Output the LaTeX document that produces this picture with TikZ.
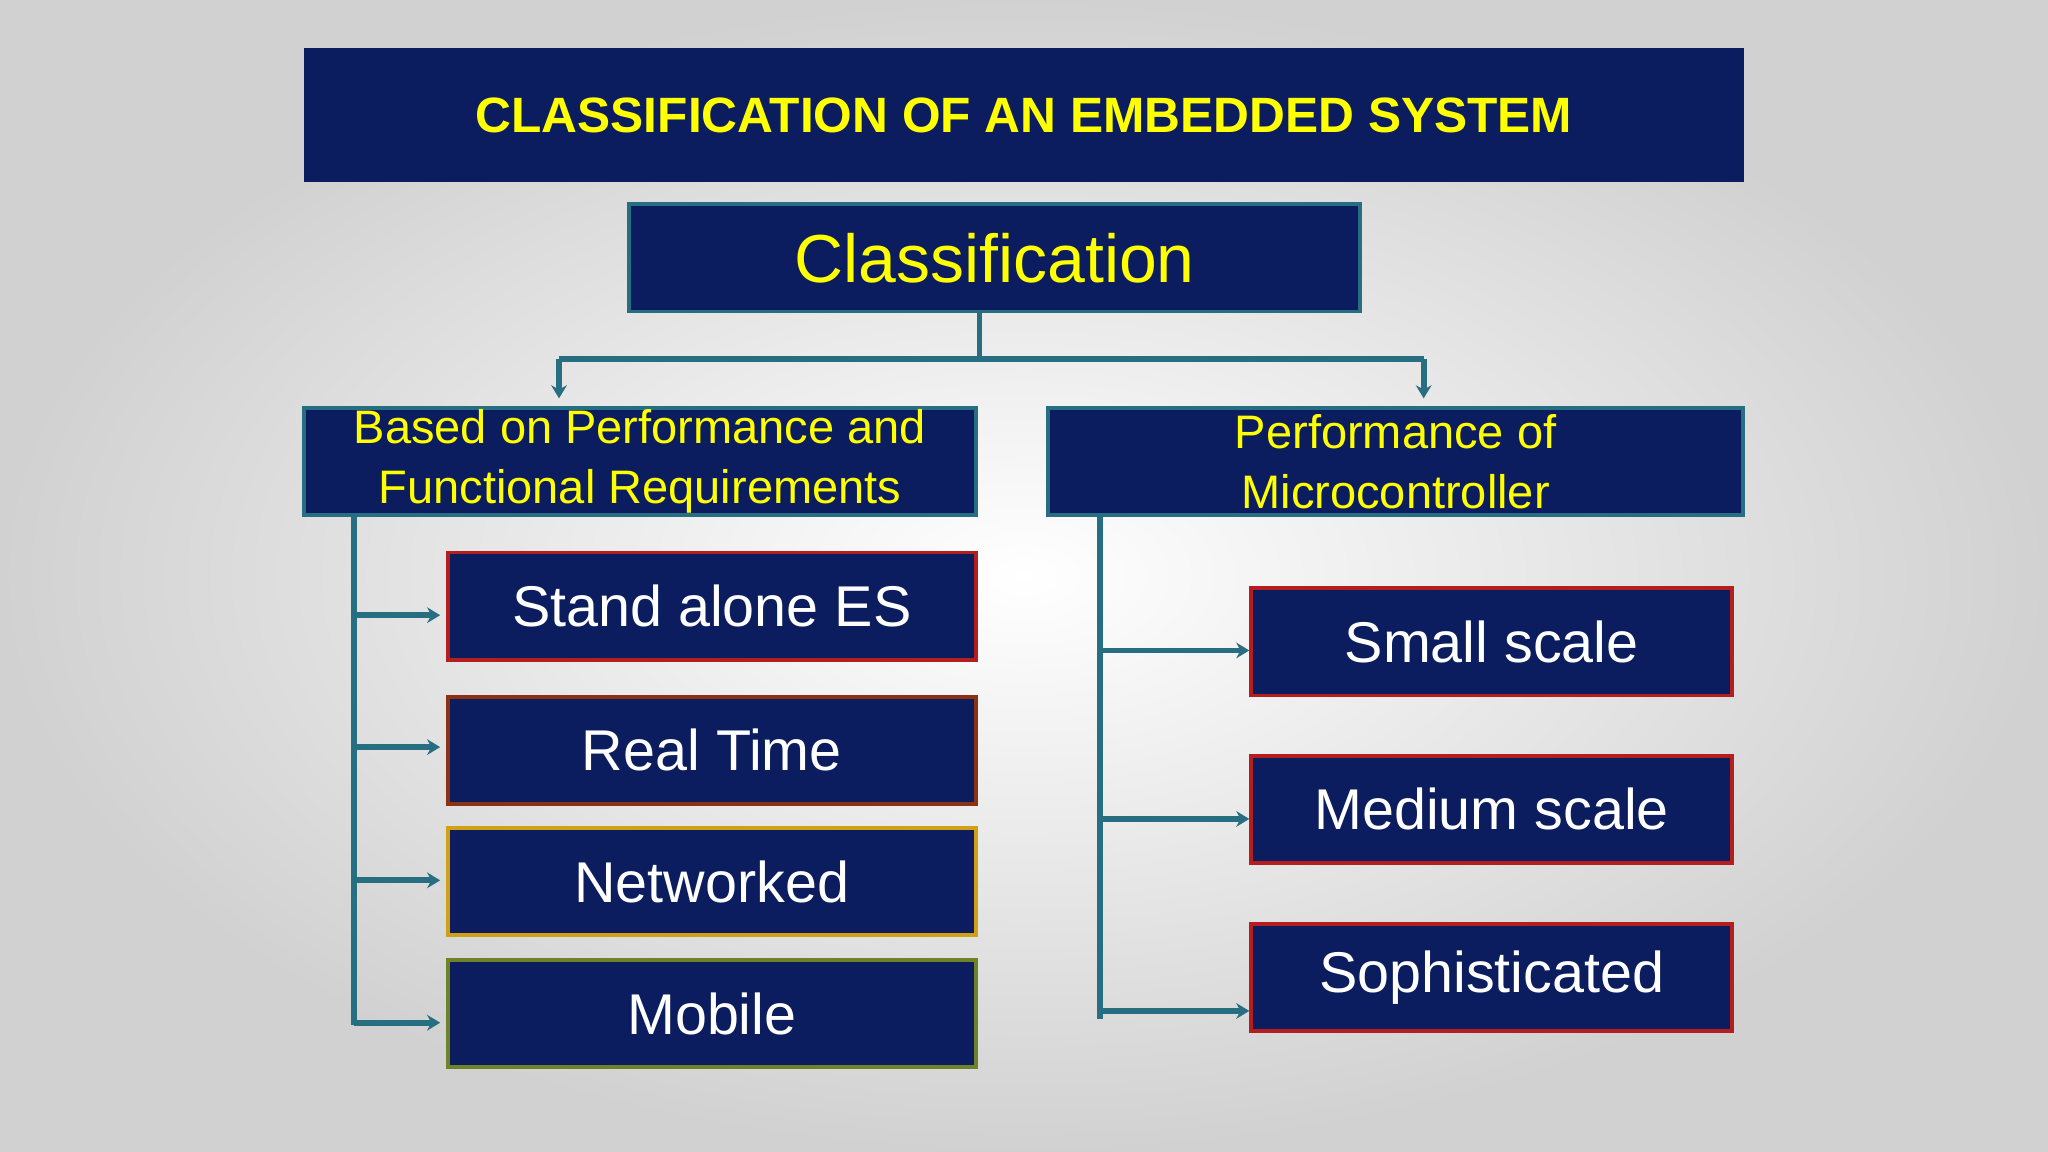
\documentclass[tikz,border=0pt]{standalone}
\usepackage{fontspec}
\setmainfont{Liberation Sans}
\usetikzlibrary{positioning,arrows.meta}
\definecolor{navy}{RGB}{11,29,94}
\definecolor{ylw}{RGB}{255,255,0}
\definecolor{teal}{RGB}{40,110,130}
\definecolor{redb}{RGB}{180,30,30}
\definecolor{brownb}{RGB}{140,50,20}
\definecolor{goldb}{RGB}{210,160,20}
\definecolor{oliveb}{RGB}{110,130,40}
\tikzset{
  box/.style={draw=teal, line width=1.5pt, fill=navy, inner sep=0pt, align=center},
  leaf/.style={box, draw=redb, minimum height=41pt, text=white, font=\fontsize{22}{24}\selectfont},
  link/.style={draw=teal, line width=2.2pt},
  tip/.style={link, -{Stealth[length=5pt,width=6pt]}}
}
\begin{document}
\begin{tikzpicture}[x=0.5pt,y=0.5pt,yscale=-1]
  % background
  \shade[inner color=white, outer color=black!18] (0,0) rectangle (1568,882);
  \useasboundingbox (0,0) rectangle (1568,882);

  % title and root
  \node[box, draw=none, minimum width=551pt, minimum height=51pt, text=ylw, font=\bfseries\fontsize{19}{22}\selectfont]
    (title) at (784,88) {CLASSIFICATION OF AN EMBEDDED SYSTEM};
  \node[box, minimum width=280pt, minimum height=41pt, text=ylw, font=\fontsize{26}{28}\selectfont]
    (root) at (761.5,197.5) {Classification};

  % categories
  \node[box, minimum width=257pt, minimum height=41pt, text=ylw, font=\fontsize{18}{23}\selectfont]
    (perf) at (490,353.5) {Based on Performance and\\Functional Requirements};
  \node[box, minimum width=266pt, minimum height=41pt, text=ylw, font=\fontsize{18}{23}\selectfont]
    (micro) at (1068.5,353.5) {Performance of\\Microcontroller};

  % leaves, left
  \node[leaf, minimum width=202pt] (alone) at (545,464) {Stand alone ES};
  \node[leaf, minimum width=202pt, draw=brownb] (rt) at (545,574.5) {Real Time};
  \node[leaf, minimum width=202pt, draw=goldb] (net) at (545,675) {Networked};
  \node[leaf, minimum width=202pt, draw=oliveb] (mob) at (545,776) {Mobile};

  % leaves, right
  \node[leaf, minimum width=184pt] (small) at (1142,491.5) {Small scale};
  \node[leaf, minimum width=184pt] (medium) at (1142,619.5) {Medium scale};
  \node[leaf, minimum width=184pt] (soph) at (1142,748.5) {Sophisticated};

  % tree links
  \coordinate (fork) at (750,275);
  \draw[link] (root.south -| fork) -- (fork);
  \draw[link] (428,275) -- (1090,275);
  \draw[tip] (428,275) -- (428,305);
  \draw[tip] (1090,275) -- (1090,305);

  \draw[link] (271,395) -- (271,785);
  \foreach \n/\y in {alone/471,rt/572,net/674,mob/783}
    \draw[tip] (271,\y) -- (337,\y);

  \draw[link] (842,395) -- (842,780);
  \foreach \n/\y in {small/498,medium/627,soph/774}
    \draw[tip] (842,\y) -- (\n.west |- 0,\y);
\end{tikzpicture}
\end{document}
